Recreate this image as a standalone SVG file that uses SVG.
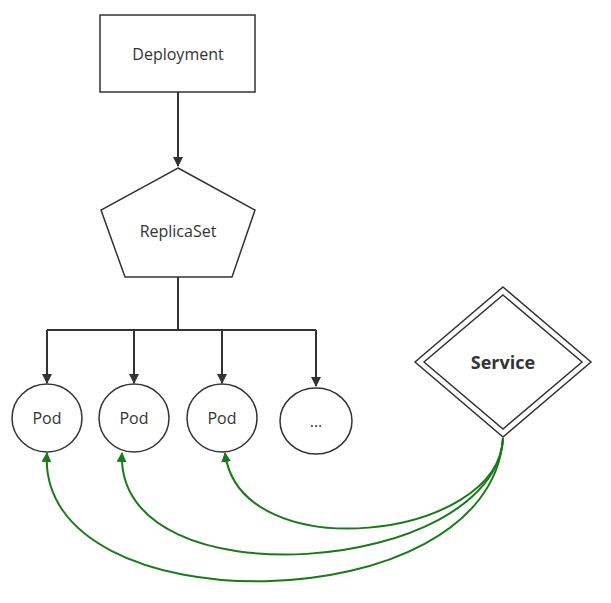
<svg xmlns="http://www.w3.org/2000/svg" width="611" height="603" viewBox="0 0 611 603">
<defs>
<marker id="ab" markerWidth="10" markerHeight="10" refX="9" refY="5" orient="auto" markerUnits="userSpaceOnUse"><path d="M0,0 L10,5 L0,10 z" fill="#333"/></marker>
<marker id="ag" markerWidth="10" markerHeight="10" refX="9" refY="5" orient="auto" markerUnits="userSpaceOnUse"><path d="M0,0 L10,5 L0,10 z" fill="#1a7a1a"/></marker>
</defs>
<style>
.n{fill:#fff;stroke:#333;stroke-width:1.5}
.t{font-family:"Open Sans","Noto Sans",sans-serif;font-size:16px;fill:#333;text-anchor:middle;dominant-baseline:central}
.c{fill:none;stroke:#333;stroke-width:2}
.g{fill:none;stroke:#1a7a1a;stroke-width:2}
</style>
<g id="connectors">
<path class="c" d="M178,92 V166" marker-end="url(#ab)"/>
<path class="c" d="M178,277 V330 M47,330 H316"/>
<path class="c" d="M47,330 V383" marker-end="url(#ab)"/>
<path class="c" d="M134,330 V383" marker-end="url(#ab)"/>
<path class="c" d="M222,330 V383" marker-end="url(#ab)"/>
<path class="c" d="M316,330 V386" marker-end="url(#ab)"/>
<path class="g" d="M503,438 C500,540 240,570 225,453" marker-end="url(#ag)"/>
<path class="g" d="M503,438 C495,575 115,605 122,453" marker-end="url(#ag)"/>
<path class="g" d="M503,438 C490,625 35,628 47,453" marker-end="url(#ag)"/>
</g>
<g id="deployment"><rect class="n" x="100" y="15" width="155" height="77"/><text class="t" x="178" y="54">Deployment</text></g>
<g id="replicaset"><polygon class="n" points="178,168 255,210 232,277 125,277 101,210"/><text class="t" x="178" y="231">ReplicaSet</text></g>
<g id="pod1"><ellipse class="n" cx="47" cy="418" rx="35" ry="34"/><text class="t" x="47" y="418">Pod</text></g>
<g id="pod2"><ellipse class="n" cx="134" cy="418" rx="35" ry="34"/><text class="t" x="134" y="418">Pod</text></g>
<g id="pod3"><ellipse class="n" cx="222" cy="418" rx="35" ry="34"/><text class="t" x="222" y="418">Pod</text></g>
<g id="more"><ellipse class="n" cx="316" cy="421" rx="36" ry="33"/><text class="t" x="316" y="421">...</text></g>
<g id="service"><polygon class="n" points="503,287 591,362 503,437 415,362"/><polygon class="n" points="503,295 582,362 503,429 424,362"/><text class="t" x="503" y="362" style="font-weight:bold;font-size:18px">Service</text></g>
</svg>
